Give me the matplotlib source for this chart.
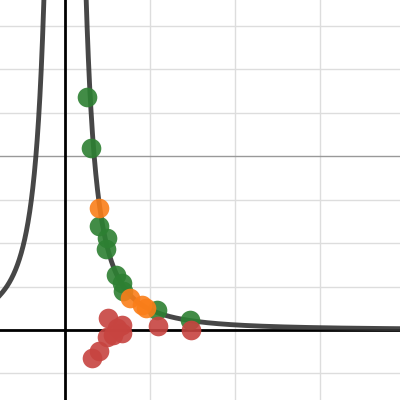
import numpy as np
import matplotlib
matplotlib.use("Agg")
import matplotlib.pyplot as plt

green_x = [0.26, 0.31, 0.40, 0.49, 0.48, 0.60, 0.67, 0.68, 1.08, 1.47]
green_y = [5.36, 4.18, 2.39, 2.11, 1.86, 1.26, 1.08, 0.90, 0.46, 0.23]
orange_x = [0.40, 0.76, 0.91, 0.95]
orange_y = [2.80, 0.74, 0.57, 0.51]
red_x = [0.51, 0.67, 0.61, 0.67, 0.49, 0.56, 0.40, 0.32, 1.09, 1.48]
red_y = [0.28, 0.11, 0.05, -0.07, -0.16, -0.11, -0.48, -0.64, 0.09, 0.0]
curve_a = 0.47

fig = plt.figure(figsize=(4, 4), dpi=100)
ax = fig.add_axes([0, 0, 1, 1])
xmin, xmax, ymin, ymax = -0.765, 3.94, -1.61, 7.59
ax.set_xlim(xmin, xmax); ax.set_ylim(ymin, ymax)
for xv in range(0, 4):
    ax.axvline(xv, color='#dddddd', lw=1, zorder=0)
for yv in range(-1, 8):
    ax.axhline(yv, color='#999999' if yv == 4 else '#dddddd', lw=1, zorder=0)
ax.axhline(0, color='black', lw=2, zorder=1)
ax.axvline(0, color='black', lw=2, zorder=1)
for xs in [np.linspace(xmin, -0.05, 400), np.linspace(0.05, xmax, 800)]:
    ax.plot(xs, curve_a / xs**2, color='#333333', lw=3.5, alpha=0.9, zorder=3)
ax.scatter(green_x, green_y, s=200, color='#2d8032', alpha=0.9, lw=0, zorder=4)
ax.scatter(red_x, red_y, s=200, color='#c74440', alpha=0.9, lw=0, zorder=4)
ax.scatter(orange_x, orange_y, s=200, color='#fa7e19', alpha=0.9, lw=0, zorder=5)
ax.set_xticks([]); ax.set_yticks([])
for s in ax.spines.values():
    s.set_visible(False)
fig.savefig('out.png', dpi=100)
